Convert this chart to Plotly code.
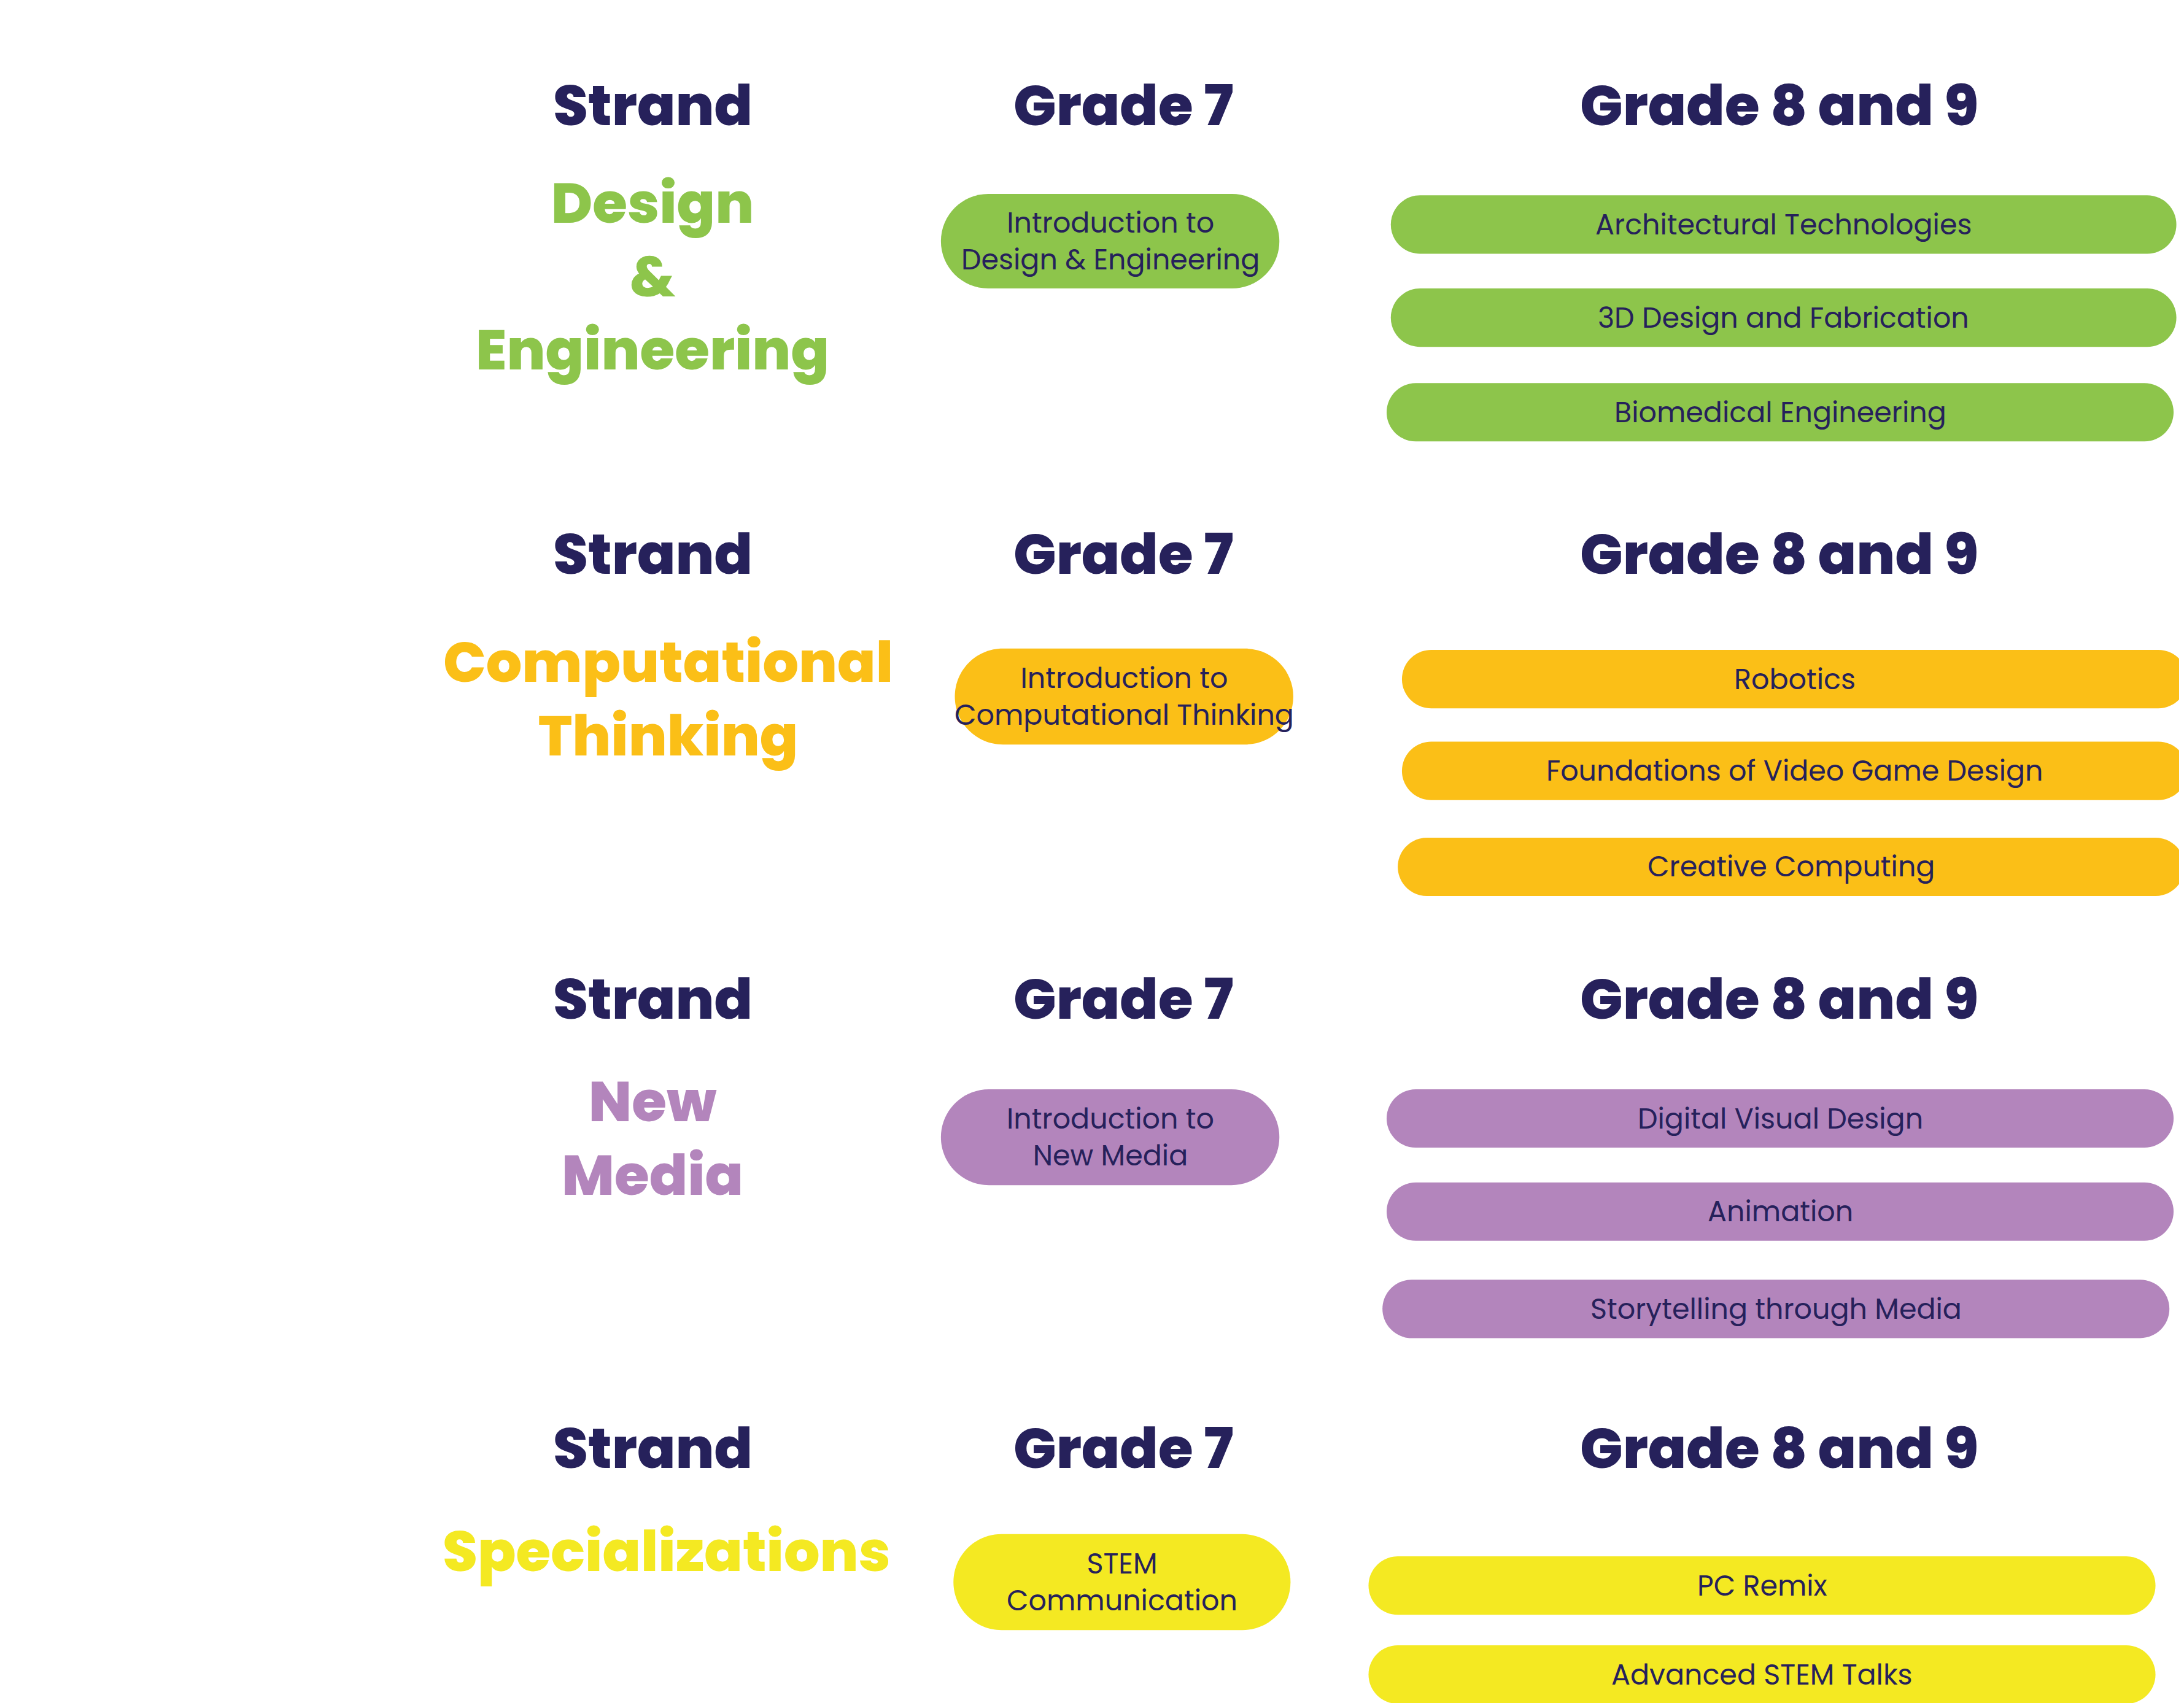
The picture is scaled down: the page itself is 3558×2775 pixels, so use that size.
import plotly.graph_objects as go

strands = ["Design<br>&<br>Engineering", "Computational<br>Thinking", "New<br>Media", "Specializations"]
strand_colors = ["#8DC54B", "#FBBF17", "#B385BC", "#F4E922"]
grade7 = ["Introduction to<br>Design & Engineering", "Introduction to<br>Computational Thinking",
          "Introduction to<br>New Media", "STEM<br>Communication"]
grade89 = [["Architectural Technologies", "3D Design and Fabrication", "Biomedical Engineering"],
           ["Robotics", "Foundations of Video Game Design", "Creative Computing"],
           ["Digital Visual Design", "Animation", "Storytelling through Media"],
           ["PC Remix", "Advanced STEM Talks"]]
headers = ["Strand", "Grade 7", "Grade 8 and 9"]

NAVY = "#26215B"
W, H = 1568, 1225
header_y = [72, 395, 715, 1038]
strand_pos = [(465, 195), (476, 499), (465, 815), (475, 1112)]
g7_box = [(672, 915, 136, 204), (682, 925, 463, 532), (672, 915, 780, 849), (681, 923, 1100, 1169)]
g89_boxes = [[(995, 1559, 158), (995, 1559, 225), (992, 1557, 293)],
             [(1003, 1567, 485), (1003, 1567, 551), (1000, 1565, 620)],
             [(992, 1557, 801), (992, 1557, 868), (989, 1554, 938)],
             [(979, 1544, 1137), (979, 1544, 1201)]]

def pill(x0, x1, y0, y1):
    r = (y1 - y0) / 2
    k = 0.5523 * r
    return (f"M {x0+r},{y0} L {x1-r},{y0} "
            f"C {x1-r+k},{y0} {x1},{y0+r-k} {x1},{y0+r} "
            f"C {x1},{y0+r+k} {x1-r+k},{y1} {x1-r},{y1} "
            f"L {x0+r},{y1} "
            f"C {x0+r-k},{y1} {x0},{y0+r+k} {x0},{y0+r} "
            f"C {x0},{y0+r-k} {x0+r-k},{y0} {x0+r},{y0} Z")

fig = go.Figure()
shapes, ann = [], []
hx = [465, 803, 1274]
for i in range(4):
    c = strand_colors[i]
    for j, h in enumerate(headers):
        ann.append(dict(x=hx[j], y=header_y[i], text=h, font=dict(size=92, color=NAVY, family="Poppins, Open Sans", weight=800)))
    ann.append(dict(x=strand_pos[i][0], y=strand_pos[i][1], text=strands[i],
                    font=dict(size=92, color=c, family="Poppins, Open Sans", weight=800)))
    x0, x1, y0, y1 = g7_box[i]
    shapes.append(dict(type="path", path=pill(x0, x1, y0, y1), fillcolor=c, line=dict(width=0), layer="below"))
    ann.append(dict(x=(x0 + x1) / 2, y=(y0 + y1) / 2, text=grade7[i],
                    font=dict(size=46, color=NAVY, family="Poppins, Open Sans")))
    for name, (a, b, yc) in zip(grade89[i], g89_boxes[i]):
        shapes.append(dict(type="path", path=pill(a, b, yc - 21, yc + 21), fillcolor=c, line=dict(width=0), layer="below"))
        ann.append(dict(x=(a + b) / 2, y=yc, text=name, font=dict(size=46, color=NAVY, family="Poppins, Open Sans")))

for a in ann:
    a.update(xref="x", yref="y", showarrow=False, xanchor="center", yanchor="middle")

fig.update_layout(width=3558, height=2775, margin=dict(l=0, r=0, t=0, b=0),
                  paper_bgcolor="white", plot_bgcolor="white", shapes=shapes, annotations=ann,
                  xaxis=dict(range=[0, W], visible=False), yaxis=dict(range=[H, 0], visible=False),
                  showlegend=False)
fig.write_html("out.html")
